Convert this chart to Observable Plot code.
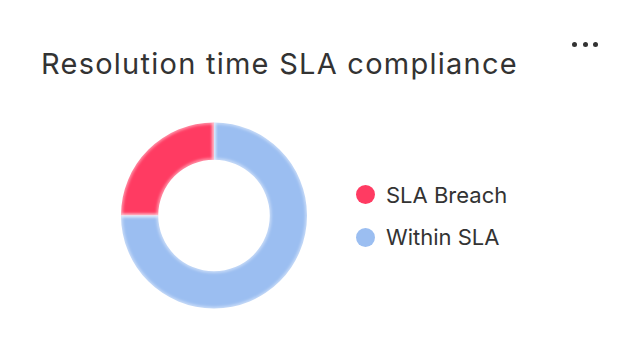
<!DOCTYPE html>
<html>
<head>
<meta charset="utf-8">
<script src="https://cdn.jsdelivr.net/npm/d3@7"></script>
<script src="https://cdn.jsdelivr.net/npm/@observablehq/plot@0.6"></script>
<style>
  html, body { margin: 0; padding: 0; background: #fff; }
  body { width: 632px; height: 349px; position: relative; overflow: hidden; font-family: Inter, "Open Sans", sans-serif; }
  #title { position: absolute; left: 41px; top: 43.7px; font-size: 29px; color: #333; letter-spacing: 1.25px; line-height: 40px; white-space: nowrap; }
  #menu { position: absolute; left: 572px; top: 41.5px; display: flex; gap: 5.5px; }
  #menu span { width: 5px; height: 5px; border-radius: 50%; background: #333; display: block; }
  #chart { position: absolute; left: 0; top: 0; }
  #legend { position: absolute; left: 356px; top: 173.5px; }
  .item { display: flex; align-items: center; height: 42.4px; font-size: 22px; color: #333; }
  .sw { width: 19px; height: 19px; border-radius: 50%; margin-right: 11px; }
</style>
</head>
<body>
<div id="chart"></div>
<div id="title"></div>
<div id="menu"><span></span><span></span><span></span></div>
<div id="legend"></div>
<script>
const titleText = "Resolution time SLA compliance";
const categories = ["SLA Breach", "Within SLA"];
const values = [25, 75];
const colors = ["#ff3b62", "#9bbef1"];

document.getElementById("title").textContent = titleText;

const data = categories.map((c, i) => ({category: c, value: values[i]}));

function donut(index, scales, vals, dim) {
  const w = dim.width - dim.marginLeft - dim.marginRight;
  const h = dim.height - dim.marginTop - dim.marginBottom;
  const cx = dim.marginLeft + w / 2, cy = dim.marginTop + h / 2;
  const outer = Math.min(w, h) / 2, inner = outer * 0.6;
  const pie = d3.pie().value(d => d.value).sort(null).startAngle(2 * Math.PI).endAngle(0);
  const arc = d3.arc().innerRadius(inner).outerRadius(outer);
  const g = d3.create("svg:g").attr("transform", `translate(${cx},${cy})`);
  const defs = g.append("defs");
  const f = defs.append("filter").attr("id", "soft").attr("x", "-10%").attr("y", "-10%").attr("width", "120%").attr("height", "120%");
  f.append("feGaussianBlur").attr("stdDeviation", 1.6);
  const arcs = pie(data);
  g.selectAll("path.s").data(arcs).join("path").attr("class", "s")
    .attr("d", arc).attr("fill", d => scales.color(d.data.category));
  g.selectAll("path.e").data(arcs).join("path").attr("class", "e")
    .attr("d", arc).attr("fill", "none").attr("stroke", "rgba(255,255,255,0.6)")
    .attr("stroke-width", 2.5).attr("filter", "url(#soft)");
  return g.node();
}

const plot = Plot.plot({
  width: 632,
  height: 349,
  marginLeft: 121,
  marginRight: 325,
  marginTop: 122.5,
  marginBottom: 40.5,
  style: {background: "transparent"},
  color: {domain: categories, range: colors},
  marks: [donut]
});
document.getElementById("chart").append(plot);

const legend = document.getElementById("legend");
categories.forEach((c, i) => {
  const item = document.createElement("div");
  item.className = "item";
  const sw = document.createElement("span");
  sw.className = "sw";
  sw.style.background = colors[i];
  const t = document.createElement("span");
  t.textContent = c;
  item.append(sw, t);
  legend.append(item);
});
</script>
</body>
</html>
